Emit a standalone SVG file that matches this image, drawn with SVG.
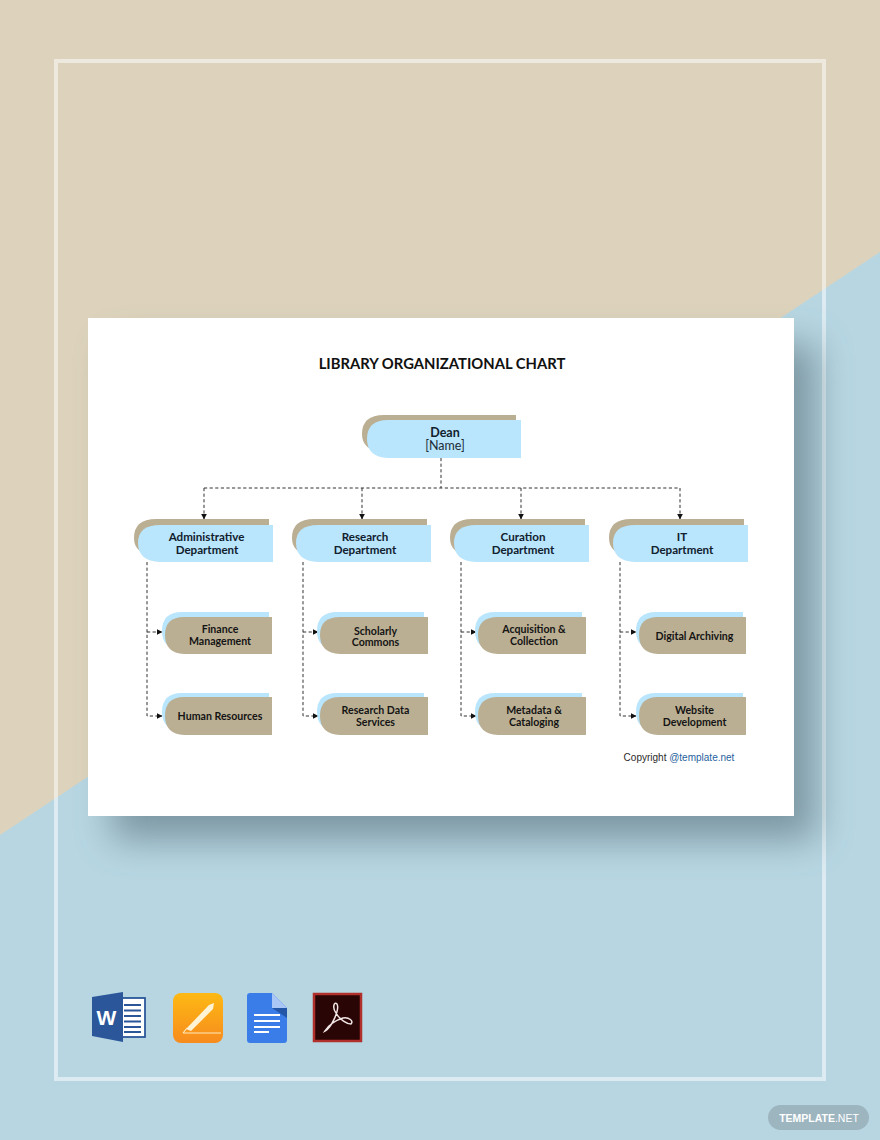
<svg xmlns="http://www.w3.org/2000/svg" width="880" height="1140" viewBox="0 0 880 1140">
<style>
text{font-family:"Lato","Open Sans","Liberation Sans",sans-serif;text-anchor:middle}
.t{font-weight:700;fill:#10202c}
.d{font-size:11.6px}
.c{font-size:10.6px;fill:#141414}
.bl{fill:#B9E5FD}
.tn{fill:#BBAF93}
.l{fill:none;stroke:#333;stroke-width:1;stroke-dasharray:3.2 2.4}
</style>
<defs>
<filter id="sh" x="-20%" y="-20%" width="140%" height="140%"><feGaussianBlur stdDeviation="18"/></filter>
<marker id="ah" markerWidth="6" markerHeight="6" refX="5" refY="3" orient="auto" markerUnits="userSpaceOnUse"><path d="M0 0.2L5.500 3L0 5.800z" fill="#111"/></marker>
<linearGradient id="pg" x1="0" y1="0" x2="0" y2="1"><stop offset="0" stop-color="#FDB913"/><stop offset="1" stop-color="#F78B1E"/></linearGradient>
</defs>
<rect id="bg" width="880" height="1140" fill="#B7D6E2"/>
<polygon points="0,0 880,0 880,252 0,835" fill="#DDD3BC"/>
<rect x="56" y="61" width="768" height="1018" fill="none" stroke="#fff" stroke-opacity=".5" stroke-width="4"/>
<rect x="112" y="344" width="704" height="496" fill="#4d6570" opacity=".55" filter="url(#sh)"/>
<rect x="88" y="318" width="706" height="498" fill="#fff"/>
<text x="442" y="369" font-size="14.800" font-weight="700" fill="#111">LIBRARY ORGANIZATIONAL CHART</text>

<g id="connectors">
<path class="l" d="M441 458V488"/>
<path class="l" d="M204 488H680"/>
<path class="l" d="M204 488V519" marker-end="url(#ah)"/>
<path class="l" d="M362 488V519" marker-end="url(#ah)"/>
<path class="l" d="M521 488V519" marker-end="url(#ah)"/>
<path class="l" d="M680 488V519" marker-end="url(#ah)"/>
<path class="l" d="M147 562V716H162" marker-end="url(#ah)"/>
<path class="l" d="M147 632H162" marker-end="url(#ah)"/>
<path class="l" d="M303 562V716H318" marker-end="url(#ah)"/>
<path class="l" d="M303 632H318" marker-end="url(#ah)"/>
<path class="l" d="M461 562V716H476" marker-end="url(#ah)"/>
<path class="l" d="M461 632H476" marker-end="url(#ah)"/>
<path class="l" d="M620 562V716H636" marker-end="url(#ah)"/>
<path class="l" d="M620 632H636" marker-end="url(#ah)"/>
</g>

<g id="dean"><path class="tn" d="M516 415V452H382Q362 450 362 434Q362 415 384 415Z"/><path class="bl" d="M521 420V458H388Q367 457 367 439Q367 420 388 420Z"/>
<text class="t" x="445" y="436.500" font-size="12.500">Dean</text><text x="445" y="449.500" font-size="12.500" fill="#1c2c38">[Name]</text></g>

<g id="dept-admin"><path class="tn" d="M269 519V556H155Q134 554 134 538Q134 519 156 519Z"/><path class="bl" d="M273 525V562H160Q138 561 138 543Q138 525 160 525Z"/>
<text class="t d" x="206.500" y="541">Administrative</text><text class="t d" x="207" y="554">Department</text></g>
<g id="dept-research"><path class="tn" d="M427 519V556H313Q292 554 292 538Q292 519 314 519Z"/><path class="bl" d="M431 525V562H318Q296 561 296 543Q296 525 318 525Z"/>
<text class="t d" x="365" y="541">Research</text><text class="t d" x="365" y="554">Department</text></g>
<g id="dept-curation"><path class="tn" d="M585 519V556H471Q450 554 450 538Q450 519 472 519Z"/><path class="bl" d="M589 525V562H476Q454 561 454 543Q454 525 476 525Z"/>
<text class="t d" x="523" y="541">Curation</text><text class="t d" x="523" y="554">Department</text></g>
<g id="dept-it"><path class="tn" d="M744 519V556H630Q609 554 609 538Q609 519 631 519Z"/><path class="bl" d="M748 525V562H635Q613 561 613 543Q613 525 635 525Z"/>
<text class="t d" x="682" y="541">IT</text><text class="t d" x="682" y="554">Department</text></g>

<g id="finance"><path class="bl" d="M269 612V650H180Q162 648 162 631Q162 612 182 612Z"/><path class="tn" d="M272 617V654H184Q165 653 165 635Q165 617 184 617Z"/>
<text class="t c" x="220" y="633">Finance</text><text class="t c" x="220" y="645">Management</text></g>
<g id="human-resources"><path class="bl" d="M269 693V731H180Q162 729 162 712Q162 693 182 693Z"/><path class="tn" d="M272 697V735H184Q165 734 165 716Q165 697 184 697Z"/>
<text class="t c" x="220" y="720">Human Resources</text></g>
<g id="scholarly"><path class="bl" d="M424 612V650H335Q317 648 317 631Q317 612 337 612Z"/><path class="tn" d="M428 617V654H340Q320 653 320 635Q320 617 340 617Z"/>
<text class="t c" x="375.500" y="635">Scholarly</text><text class="t c" x="375.500" y="646">Commons</text></g>
<g id="research-data"><path class="bl" d="M424 693V731H335Q317 729 317 712Q317 693 337 693Z"/><path class="tn" d="M428 697V735H340Q320 734 320 716Q320 697 340 697Z"/>
<text class="t c" x="375.500" y="714">Research Data</text><text class="t c" x="375.500" y="726">Services</text></g>
<g id="acquisition"><path class="bl" d="M582 612V650H493Q475 648 475 631Q475 612 495 612Z"/><path class="tn" d="M586 617V654H498Q478 653 478 635Q478 617 498 617Z"/>
<text class="t c" x="534" y="633">Acquisition &amp;</text><text class="t c" x="534" y="644.500">Collection</text></g>
<g id="metadata"><path class="bl" d="M582 693V731H493Q475 729 475 712Q475 693 495 693Z"/><path class="tn" d="M586 697V735H498Q478 734 478 716Q478 697 498 697Z"/>
<text class="t c" x="534" y="714">Metadata &amp;</text><text class="t c" x="534" y="726">Cataloging</text></g>
<g id="digital-archiving"><path class="bl" d="M743 612V650H654Q636 648 636 631Q636 612 656 612Z"/><path class="tn" d="M746 617V654H658Q639 653 639 635Q639 617 658 617Z"/>
<text class="t c" x="694.500" y="640">Digital Archiving</text></g>
<g id="website"><path class="bl" d="M743 693V731H654Q636 729 636 712Q636 693 656 693Z"/><path class="tn" d="M746 697V735H658Q639 734 639 716Q639 697 658 697Z"/>
<text class="t c" x="694.500" y="714">Website</text><text class="t c" x="694.500" y="726">Development</text></g>

<text x="679" y="761" font-size="10" style="font-family:'Liberation Sans',sans-serif" fill="#2a2a2a">Copyright <tspan fill="#1f5f9e">@template.net</tspan></text>

<g id="word">
<rect x="120" y="998" width="25" height="39" fill="#fff" stroke="#2B579A" stroke-width="1.800"/>
<path d="M124 1005H141M124 1010.500H141M124 1016H141M124 1021.500H141M124 1027H141M124 1032H141" stroke="#2B579A" stroke-width="1.800"/>
<polygon points="92,997 123,992 123,1042 92,1036" fill="#2B579A"/>
<text x="106.500" y="1025" font-size="21" font-weight="700" fill="#fff" style="font-family:'Liberation Sans',sans-serif">W</text>
</g>
<g id="pages">
<rect x="173" y="993" width="50" height="50" rx="8" fill="url(#pg)"/>
<path d="M186 1029L209 1005L214 1003L213 1009L191 1031Z" fill="#FFF3D6"/>
<path d="M183 1033L187 1028M183 1033H221" stroke="#FFE9BC" stroke-width="1.200" fill="none"/>
</g>
<g id="gdocs">
<path d="M250 993H272L287 1008V1040Q287 1043 284 1043H250Q247 1043 247 1040V996Q247 993 250 993Z" fill="#3B7DE8"/>
<path d="M272 993L287 1008H272Z" fill="#A9C6F4"/>
<path d="M272 1008H287V1018Z" fill="#2456A8"/>
<path d="M254 1015H280M254 1021H280M254 1027H280M254 1032H269" stroke="#fff" stroke-width="1.800"/>
</g>
<g id="acrobat">
<rect x="314" y="994" width="47" height="47" fill="#2A0505" stroke="#B1302B" stroke-width="2.500"/>
<path d="M325 1031C331 1028 340 1010 337 1004C334 1001 332 1008 336 1013C340 1020 347 1024 351 1024C354 1021 349 1017 343 1018C336 1020 329 1025 325 1031Z" fill="none" stroke="#F2E6E6" stroke-width="1.500"/>
</g>
<g id="badge">
<rect x="768" y="1105" width="101" height="25" rx="12.500" fill="#9DB5BF"/>
<text x="819" y="1121.500" font-size="10.500" fill="#fff" style="font-family:'Liberation Sans',sans-serif" font-weight="700">TEMPLATE<tspan font-weight="400">.NET</tspan></text>
</g>
</svg>
